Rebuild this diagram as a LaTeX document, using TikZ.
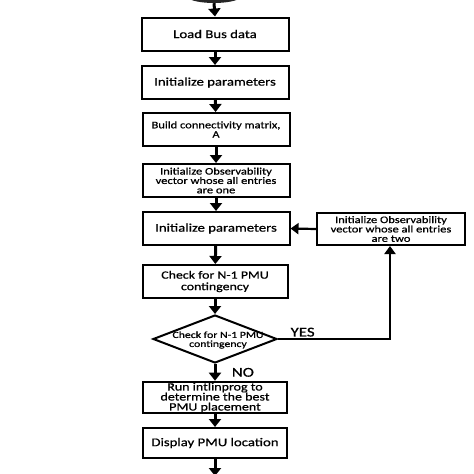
\documentclass[tikz,border=0pt]{standalone}
\usepackage{fontspec}
\setmainfont[FakeStretch=1.25, FakeBold=0.7]{Carlito}
\usetikzlibrary{shapes.geometric,arrows.meta}
\tikzset{
  box/.style={draw=black, line width=2pt, fill=white, rectangle, minimum width=147pt, minimum height=33pt, inner sep=1pt, align=center, font=\fontsize{11.8}{11.8}\selectfont},
  smallbox/.style={box, font=\fontsize{10}{9.4}\selectfont},
  dec/.style={draw=black, line width=2pt, fill=white, diamond, minimum width=124pt, minimum height=48pt, inner sep=0pt},
  dectext/.style={align=center, inner sep=0pt, font=\fontsize{9.4}{9}\selectfont},
  flow/.style={line width=3pt, -{Triangle[length=8pt,width=12pt]}},
  back/.style={line width=2.2pt, -{Triangle[length=8pt,width=11pt]}},
  lbl/.style={font=\fontsize{13.5}{13.5}\selectfont}
}
\begin{document}
\begin{tikzpicture}[x=1pt,y=-1pt]
\useasboundingbox (0,0) rectangle (474,474);
\clip (0,0) rectangle (474,474);
\fill[white] (0,0) rectangle (474,474);
\node[ellipse, fill=black!85, minimum width=58pt, minimum height=16pt, inner sep=0pt] (start) at (214,-5) {};
\node[box] (load) at (215,34) {Load Bus data};
\node[box] (init1) at (215,82.5) {Initialize parameters};
\node[smallbox] (build) at (216,129.5) {Build connectivity matrix,\\A};
\node[smallbox] (obs1) at (216,180.5) {Initialize Observability\\vector whose all entries\\are one};
\node[box] (init2) at (216,228.5) {Initialize parameters};
\node[smallbox, minimum width=148pt, minimum height=32pt] (obs2) at (391,229) {Initialize Observability\\vector whose all entries\\are two};
\node[box, minimum width=145pt, font=\fontsize{11.1}{11.5}\selectfont] (check) at (215,281.5) {Check for N-1 PMU\\contingency};
\node[dec] (dec) at (215,339) {};
\node[dectext] (dect) at (218,340) {Check for N-1 PMU\\contingency};
\node[box, minimum width=144pt, minimum height=31pt, font=\fontsize{11.2}{10}\selectfont] (run) at (215,397.5) {Run intlinprog to\\determine the best\\PMU placement};
\node[box, minimum width=144pt, minimum height=30pt] (disp) at (215,443) {Display PMU location};
\coordinate (endpt) at (215,476);
\coordinate (corner) at (390,339);
\draw[flow] (start.south) -- (load.north);
\draw[flow] (load) -- (init1);
\draw[flow] (init1) -- (build);
\draw[flow] (build) -- (obs1);
\draw[flow] (obs1) -- (init2);
\draw[flow] (init2) -- (check);
\draw[flow] (check) -- (dec);
\draw[flow] (dec) -- node[lbl, right=12pt, pos=0.5] (no) {NO} (run);
\draw[flow] (run) -- (disp);
\draw[flow] (disp) -- (endpt);
\draw[back] (dec.east) -- node[lbl, above=-2pt, pos=0.22] (yes) {YES} (corner) -- (obs2.south -| corner);
\draw[back] (obs2.west) -- (init2.east);
\end{tikzpicture}
\end{document}
